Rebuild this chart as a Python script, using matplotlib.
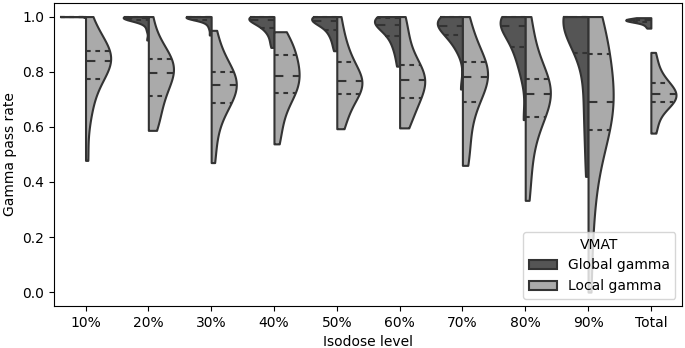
import numpy as np
import pandas as pd
import seaborn as sns
import matplotlib
matplotlib.use("Agg")
import matplotlib.pyplot as plt

# Niveles de isodosis
niveles = ["10%", "20%", "30%", "40%", "50%", "60%", "70%", "80%", "90%", "Total"]
tipos = ["Global gamma", "Local gamma"]

# Tasas de paso (valores estimados de la figura), una lista por nivel
global_gamma = [
    [0.999, 1.0, 1.0, 1.0, 1.0, 1.0, 1.0, 1.0, 1.0, 1.0, 1.0, 1.0],
    [0.915, 0.95, 0.97, 0.98, 0.985, 0.99, 0.992, 0.994, 0.995, 0.996,
     0.997, 0.998, 0.999, 1.0, 1.0, 1.0, 1.0, 1.0, 1.0, 1.0],
    [0.933, 0.955, 0.97, 0.978, 0.985, 0.99, 0.993, 0.995, 0.997, 0.998,
     0.999, 1.0, 1.0, 1.0, 1.0, 1.0, 1.0, 1.0, 1.0, 1.0],
    [0.888, 0.91, 0.93, 0.945, 0.955, 0.962, 0.968, 0.975, 0.98, 0.985,
     0.99, 0.993, 0.996, 0.998, 1.0, 1.0, 1.0, 1.0, 1.0, 1.0],
    [0.876, 0.90, 0.92, 0.935, 0.945, 0.955, 0.965, 0.972, 0.978, 0.982,
     0.986, 0.99, 0.994, 0.997, 1.0, 1.0, 1.0, 1.0, 1.0, 1.0],
    [0.82, 0.86, 0.885, 0.905, 0.92, 0.935, 0.945, 0.955, 0.962, 0.968,
     0.972, 0.978, 0.985, 0.99, 0.995, 1.0, 1.0, 1.0, 1.0, 1.0],
    [0.737, 0.87, 0.895, 0.91, 0.925, 0.935, 0.945, 0.952, 0.958, 0.963,
     0.968, 0.975, 0.982, 0.99, 0.996, 1.0, 1.0, 1.0, 1.0, 1.0],
    [0.626, 0.78, 0.82, 0.855, 0.878, 0.895, 0.91, 0.93, 0.945, 0.96,
     0.975, 0.985, 0.99, 0.995, 1.0, 1.0, 1.0, 1.0, 1.0, 1.0],
    [0.42, 0.55, 0.65, 0.72, 0.83, 0.88, 0.92, 0.96, 0.99, 1.0,
     1.0, 1.0, 1.0, 1.0, 1.0, 1.0, 1.0, 1.0, 1.0, 1.0],
    [0.958, 0.968, 0.975, 0.98, 0.983, 0.985, 0.986, 0.987, 0.988, 0.989,
     0.991, 0.994, 0.996],
]

local_gamma = [
    [0.478, 0.62, 0.68, 0.72, 0.76, 0.78, 0.80, 0.82, 0.83, 0.835,
     0.845, 0.85, 0.86, 0.87, 0.875, 0.88, 0.90, 0.93, 0.96, 1.0],
    [0.587, 0.60, 0.64, 0.67, 0.70, 0.715, 0.74, 0.76, 0.78, 0.79,
     0.80, 0.81, 0.82, 0.83, 0.845, 0.855, 0.87, 0.89, 0.93, 1.0],
    [0.47, 0.55, 0.61, 0.65, 0.68, 0.69, 0.70, 0.72, 0.735, 0.745,
     0.755, 0.765, 0.775, 0.785, 0.795, 0.805, 0.83, 0.86, 0.90, 0.95],
    [0.538, 0.59, 0.64, 0.68, 0.715, 0.725, 0.735, 0.75, 0.765, 0.775,
     0.79, 0.805, 0.82, 0.84, 0.855, 0.87, 0.89, 0.91, 0.93, 0.945],
    [0.593, 0.61, 0.65, 0.68, 0.70, 0.72, 0.73, 0.74, 0.75, 0.76,
     0.765, 0.77, 0.78, 0.79, 0.80, 0.835, 0.85, 0.87, 0.90, 0.94, 1.0],
    [0.596, 0.61, 0.64, 0.67, 0.69, 0.705, 0.72, 0.735, 0.75, 0.76,
     0.77, 0.78, 0.79, 0.80, 0.81, 0.825, 0.85, 0.88, 0.92, 0.96, 1.0],
    [0.46, 0.50, 0.56, 0.62, 0.66, 0.69, 0.72, 0.745, 0.76, 0.77,
     0.78, 0.79, 0.80, 0.81, 0.82, 0.835, 0.85, 0.88, 0.92, 0.96, 1.0],
    [0.333, 0.42, 0.50, 0.56, 0.60, 0.635, 0.66, 0.68, 0.70, 0.71,
     0.72, 0.73, 0.74, 0.75, 0.76, 0.775, 0.80, 0.84, 0.89, 0.95, 1.0],
    [0.0, 0.22, 0.35, 0.45, 0.52, 0.59, 0.61, 0.63, 0.65, 0.67,
     0.69, 0.71, 0.73, 0.76, 0.80, 0.865, 0.89, 0.92, 0.95, 0.98, 1.0],
    [0.577, 0.60, 0.64, 0.67, 0.685, 0.69, 0.695, 0.70, 0.71, 0.715,
     0.72, 0.725, 0.73, 0.735, 0.755, 0.765, 0.78, 0.80, 0.84, 0.87],
]

# Tabla larga para seaborn
filas = []
for nivel, g, l in zip(niveles, global_gamma, local_gamma):
    for v in g:
        filas.append({"Isodose level": nivel, "VMAT": tipos[0], "Gamma pass rate": v})
    for v in l:
        filas.append({"Isodose level": nivel, "VMAT": tipos[1], "Gamma pass rate": v})
df = pd.DataFrame(filas)

fig = plt.figure(figsize=(6.85, 3.48), dpi=100)
ax = fig.add_axes([0.079, 0.121, 0.917, 0.871])

sns.violinplot(data=df, x="Isodose level", y="Gamma pass rate", hue="VMAT",
               order=niveles, hue_order=tipos, split=True, inner="quart",
               cut=0, density_norm="width",
               palette=["#555555", "#aaaaaa"], saturation=1,
               linecolor="#333333", linewidth=1.5, ax=ax)

# Cuartiles con guiones cortos, mediana con guiones largos
for i, linea in enumerate(ax.lines):
    linea.set_color("#333333")
    linea.set_linewidth(1.5)
    if i % 3 == 1:
        linea.set_dashes([4.5, 4.5])
    else:
        linea.set_dashes([2.25, 2.25])

ax.set_ylim(-0.05, 1.05)
ax.set_xlim(-0.5, 9.5)
ax.set_xlabel("Isodose level")
ax.set_ylabel("Gamma pass rate")
for s in ax.spines.values():
    s.set_visible(True)
ax.legend(title="VMAT", loc="lower right")

fig.savefig("out.png", dpi=100)
